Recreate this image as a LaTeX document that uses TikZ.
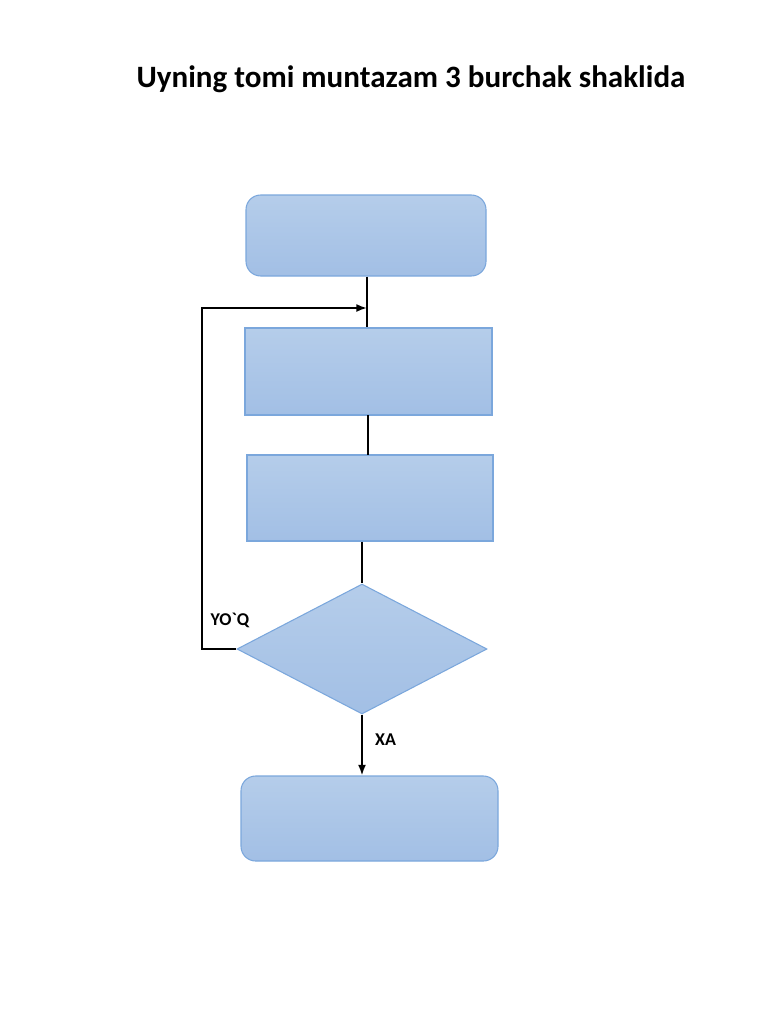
\documentclass[tikz,border=0pt]{standalone}
\usepackage{fontspec}
\setmainfont{Carlito}
\usetikzlibrary{shapes.geometric, positioning, arrows.meta}

\definecolor{boxtop}{HTML}{B5CDEA}
\definecolor{boxbot}{HTML}{A2BFE5}
\definecolor{boxline}{HTML}{7BA7DC}

\tikzset{
    box/.style={rectangle, draw=boxline, line width=0.8pt, top color=boxtop, bottom color=boxbot, inner sep=0pt},
    rbox/.style={box, rounded corners=11pt},
    decision/.style={diamond, draw=boxline, line width=0.8pt, top color=boxtop, bottom color=boxbot, inner sep=0pt, aspect=1.92},
    link/.style={line width=1.4pt},
    lbl/.style={font=\bfseries\fontsize{13.5}{15}\selectfont}
}

\begin{document}
\begin{tikzpicture}[x=0.75pt, y=-0.75pt]
    \useasboundingbox (0,0) rectangle (768,1024);

    % Title
    \node[font=\bfseries\fontsize{23.3}{28}\selectfont] (title) at (411,79) {Uyning tomi muntazam 3 burchak shaklida};

    % Blocks
    \node[rbox, minimum width=180pt, minimum height=60.75pt] (start) at (366,235.5) {};
    \node[box, minimum width=185.25pt, minimum height=65.25pt] (stepa) at (368.5,371.5) {};
    \node[box, minimum width=184.5pt, minimum height=64.5pt] (stepb) at (370,498) {};
    \node[decision, minimum width=187.5pt, minimum height=97.5pt] (check) at (362,649) {};
    \node[rbox, minimum width=192.75pt, minimum height=63.75pt] (finish) at (369.5,818.5) {};

    % Connectors
    \coordinate (join) at (367,308);
    \coordinate (back) at (202,308);
    \draw[link] (start.south -| join) -- (join) -- (stepa.north -| join);
    \draw[link] (368,415) -- (368,455);
    \draw[link] (stepb.south -| check.north) -- (check.north);
    \draw[link, -{Latex[length=8pt,width=6pt]}] (check.west) -| (back) -- (join);
    \draw[link, -{Latex[length=8pt,width=6pt]}] (check.south) -- (check.south |- finish.north);

    % Labels
    \node[lbl] (no) at (230,620) {YO\textasciigrave Q};
    \node[lbl] (yes) at (385.5,739.5) {XA};
\end{tikzpicture}
\end{document}
